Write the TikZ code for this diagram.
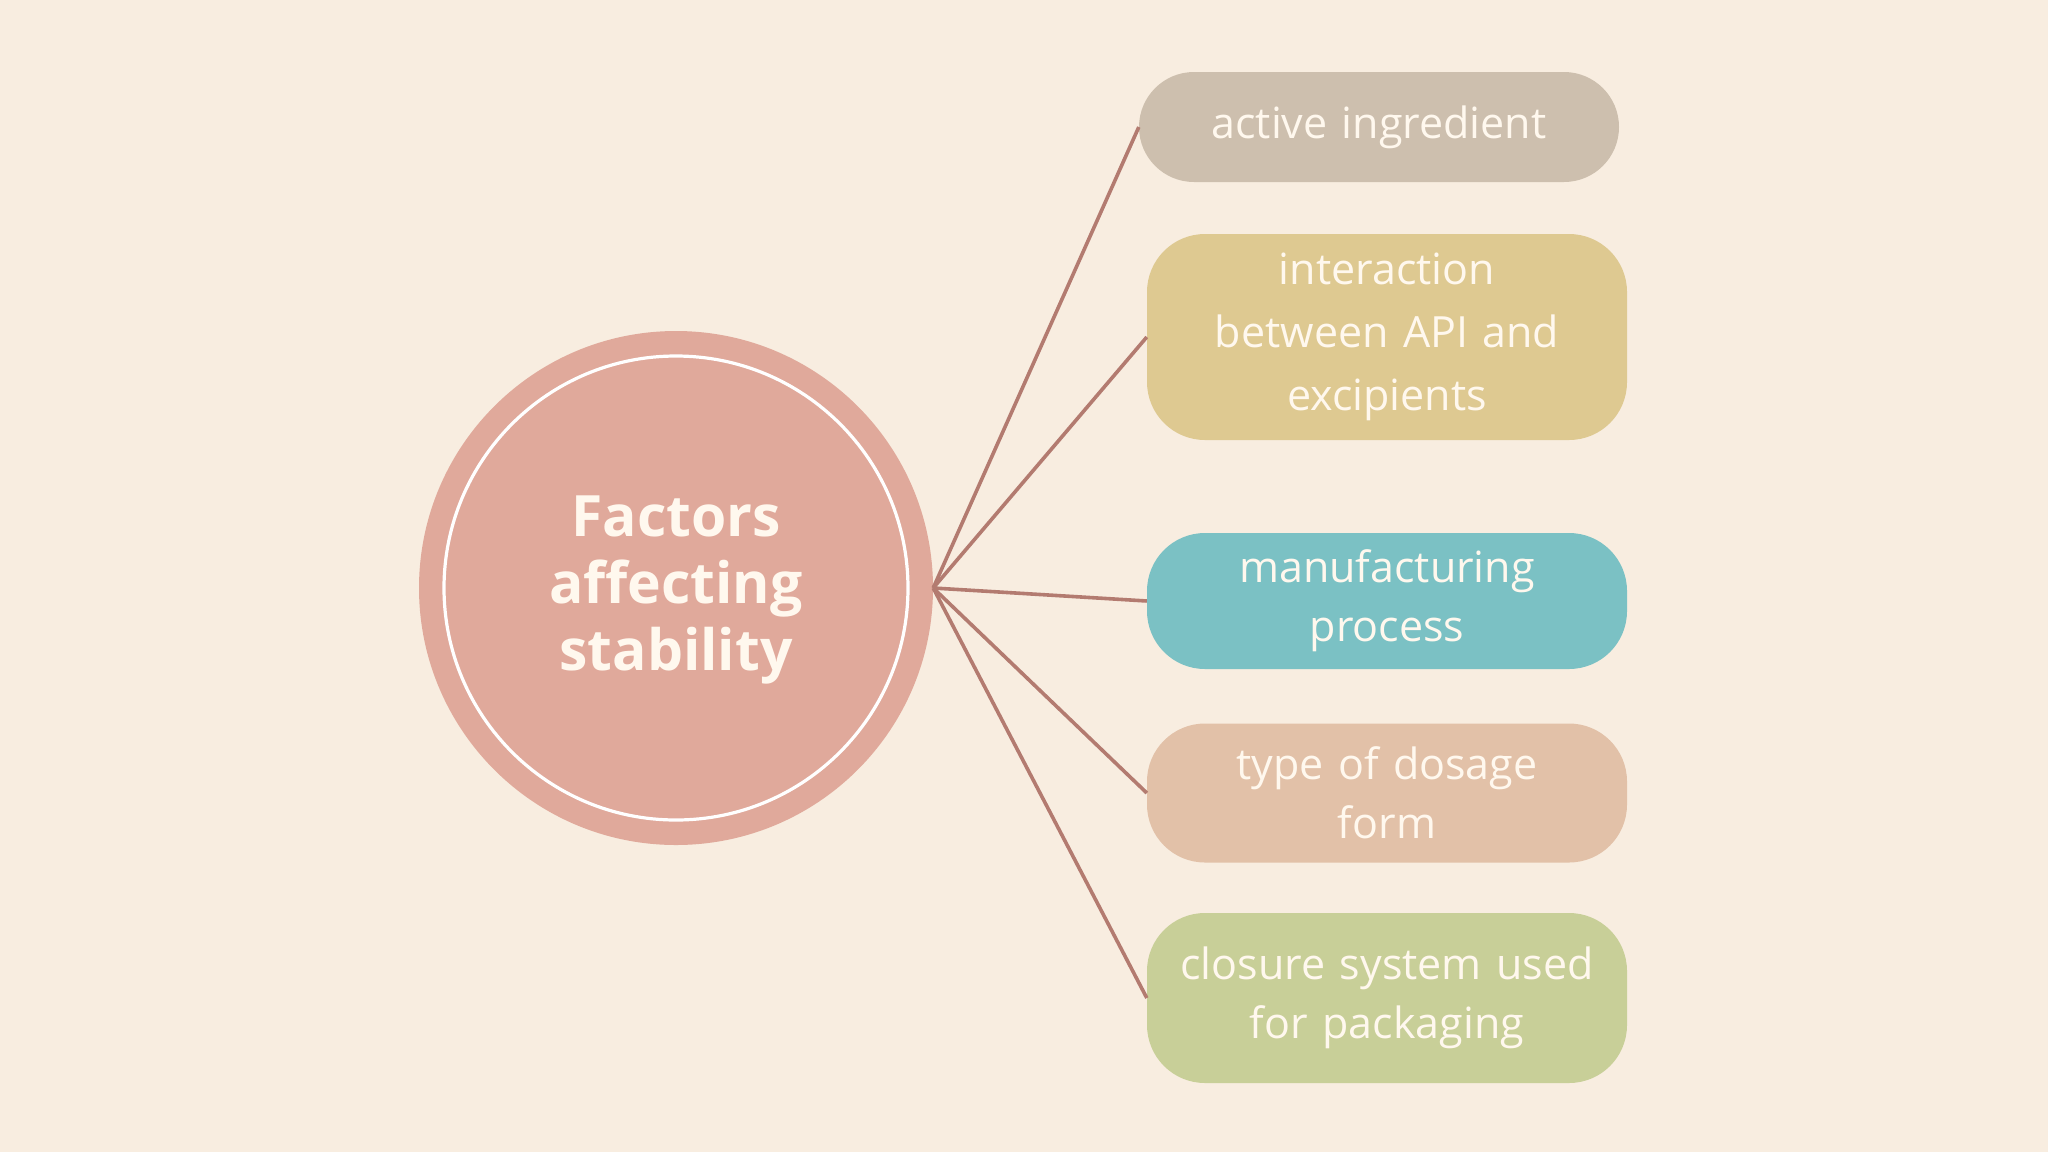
\documentclass[tikz,border=0pt]{standalone}
\usepackage{fontspec}
\setmainfont{Open Sans}
\definecolor{bg}{HTML}{F8EDE0}
\definecolor{circ}{HTML}{E0A99B}
\definecolor{linec}{HTML}{B37B70}
\definecolor{txt}{HTML}{FFF8EE}
\definecolor{cA}{HTML}{CDBFAE}
\definecolor{cB}{HTML}{DEC991}
\definecolor{cC}{HTML}{7BC1C4}
\definecolor{cD}{HTML}{E2C1A8}
\definecolor{cE}{HTML}{C8CF98}
\tikzset{
  factor/.style={rounded corners=58pt, minimum width=480pt, text width=460pt, align=center, inner sep=0pt, text=txt, font=\fontsize{43}{59}\selectfont},
  link/.style={draw=linec, line width=3.6pt},
}
\begin{document}
\begin{tikzpicture}[x=1pt,y=-1pt]
\fill[bg] (0,0) rectangle (2048,1152);
\useasboundingbox (0,0) rectangle (2048,1152);
\node[circle, fill=circ, minimum size=514pt, inner sep=0pt] (hub) at (676,588) {};
\draw[white, line width=3.2pt] (hub.center) circle (232pt);
\node[text=txt, align=center, font=\fontsize{57}{67}\selectfont\bfseries] (title) at (676,590) {Factors\\affecting\\stability};
\node[factor, fill=cA, minimum height=110pt, rounded corners=55pt] (f1) at (1379,127) {\raisebox{-4pt}{active ingredient}};
\node[factor, fill=cB, minimum height=206pt, font=\fontsize{43}{63}\selectfont] (f2) at (1387,337) {interaction\\between API and\\excipients};
\node[factor, fill=cC, minimum height=136pt] (f3) at (1387,601) {manufacturing\\process};
\node[factor, fill=cD, minimum height=139pt] (f4) at (1387,793) {type of dosage\\form};
\node[factor, fill=cE, minimum height=170pt] (f5) at (1387,998) {closure system used\\for packaging};
\foreach \n in {f1,f2,f3,f4,f5} \draw[link] (hub.east) -- (\n.west);
\end{tikzpicture}
\end{document}
